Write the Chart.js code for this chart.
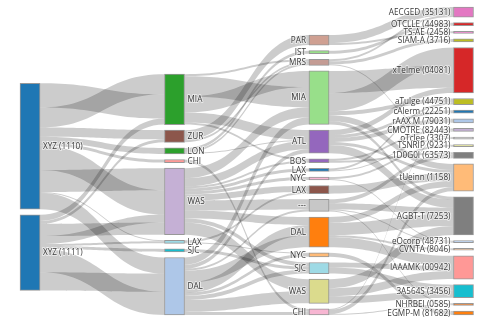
<!DOCTYPE html>
<html>
<head>
<meta charset="utf-8">
<script src="https://cdn.jsdelivr.net/npm/chart.js@4.4.1/dist/chart.umd.min.js"></script>
<style>
  html, body { margin: 0; padding: 0; background: #fff; }
  #wrap { width: 500px; height: 324px; position: relative; }
</style>
</head>
<body>
<div id="wrap"><canvas id="sankey"></canvas></div>
<script>
'use strict';

// nodes, listed column by column, top to bottom
const nodeLabels = [
  'XYZ (1110)', 'XYZ (1111)',
  'MIA', 'ZUR', 'LON', 'CHI', 'WAS', 'LAX', 'SJC', 'DAL',
  'PAR', 'IST', 'MRS', 'MIA', 'ATL', 'BOS', 'LAX', 'NYC', 'LAX', '---', 'DAL', 'NYC', 'SJC', 'WAS', 'CHI',
  'AECGED (35131)', 'OTCLLE (44983)', 'TS-AE (2458)', 'SIAM-A (3716)', 'xTelme (04081)', 'aTulge (44751)',
  'cAlerm (22251)', 'rAAX M (79031)', 'CMOTRE (82443)', 'oTclee (3307)', 'TSNRIP (9231)', '1D0G0I (63573)',
  'tUeinn (1158)', 'AGBT-T (7253)', 'eOcorp (48731)', 'CVNTA (8046)', 'IAAAMK (00942)', '3A564S (3456)',
  'NHRBEI (0585)', 'EGMP-M (81682)',
];
const nodeColumn = [
  0, 0,
  1, 1, 1, 1, 1, 1, 1, 1,
  2, 2, 2, 2, 2, 2, 2, 2, 2, 2, 2, 2, 2, 2, 2,
  3, 3, 3, 3, 3, 3, 3, 3, 3, 3, 3, 3, 3, 3, 3, 3, 3, 3, 3, 3,
];

// flows: source node index -> target node index, value
const linkSource = [
  0, 0, 0, 0, 0, 0, 0, 0, 0,
  1, 1, 1, 1, 1, 1, 1, 1,
  2, 2, 2, 2, 2, 3, 3, 4, 4, 4, 5,
  6, 6, 6, 6, 6, 6, 6, 6, 6, 6, 7, 7, 8,
  9, 9, 9, 9, 9, 9, 9, 9, 9,
  10, 10, 11, 12, 12, 12, 13, 13, 13, 13, 13,
  14, 14, 14, 14, 14, 15, 15, 16, 16, 17, 17, 18,
  19, 19, 19, 19, 20, 20, 20, 20, 21, 22, 22, 23, 23, 23, 24, 24, 24,
];
const linkTarget = [
  2, 2, 3, 4, 5, 6, 6, 7, 9,
  2, 3, 6, 6, 7, 8, 9, 9,
  13, 13, 12, 14, 15, 10, 12, 11, 12, 14, 24,
  13, 14, 15, 16, 17, 18, 19, 20, 22, 23, 18, 21, 22,
  13, 14, 19, 20, 20, 21, 22, 23, 24,
  25, 27, 26, 25, 28, 34, 29, 29, 30, 37, 38,
  29, 31, 32, 37, 38, 33, 36, 30, 34, 35, 39, 37,
  36, 38, 39, 43, 37, 38, 41, 40, 44, 41, 42, 38, 41, 42, 33, 37, 43,
];
const linkValue = [
  24, 20, 9, 6, 3, 24, 22, 1, 16,
  6, 3, 12, 8, 2, 3, 23, 18,
  20, 16, 2, 10, 2, 10, 2, 3, 2, 1, 3,
  10, 8, 2, 3, 3, 6, 10, 8, 4, 12, 2, 1, 3,
  7, 4, 2, 12, 10, 3, 4, 12, 3,
  8, 2, 3, 2, 3, 1, 22, 18, 4, 6, 3,
  5, 3, 4, 3, 8, 2, 2, 2, 1, 2, 1, 8,
  4, 6, 1, 1, 6, 12, 10, 2, 4, 5, 6, 9, 8, 7, 1, 4, 1,
];

const nodeColors = [
  '#1f77b4', '#1f77b4',
  '#2ca02c', '#8c564b', '#2ca02c', '#ff9896', '#c5b0d5', '#9edae5', '#17becf', '#aec7e8',
  '#cfa092', '#98df8a', '#c49c94', '#98df8a', '#9467bd', '#9467bd', '#1f77b4', '#f7b6d2', '#8c564b',
  '#c7c7c7', '#ff7f0e', '#ffbb78', '#9edae5', '#dbdb8d', '#f7b6d2',
  '#e377c2', '#d62728', '#e377c2', '#bcbd22', '#d62728', '#bcbd22', '#1f77b4', '#aec7e8', '#c5b0d5',
  '#c7c7c7', '#dbdb8d', '#7f7f7f', '#ffbb78', '#7f7f7f', '#aec7e8', '#dba77c', '#ff9896', '#17becf',
  '#d9752b', '#ff7f0e',
];

const PLOT_H = 308;
const NODE_PAD = 5.6;
const NODE_W = 20;
const LINK_COLOR = 'rgba(0,0,0,0.2)';

const sum = (arr, f) => arr.reduce((s, d) => s + f(d), 0);

// columns are stacked with a fixed gap and sit on the bottom of the plot;
// nodes of the first column are then centred on the far ends of their own links
const computeSankey = () => {
  const nodes = nodeLabels.map((label, i) => ({ i, label, col: nodeColumn[i], sourceLinks: [], targetLinks: [] }));
  const links = linkValue.map((value, k) => ({ k, value, source: nodes[linkSource[k]], target: nodes[linkTarget[k]] }));
  links.forEach(l => { l.source.sourceLinks.push(l); l.target.targetLinks.push(l); });
  nodes.forEach(n => {
    n.value = Math.max(sum(n.sourceLinks, l => l.value), sum(n.targetLinks, l => l.value));
    n.sourceLinks.sort((a, b) => a.target.i - b.target.i || a.k - b.k);
    n.targetLinks.sort((a, b) => a.source.i - b.source.i || b.k - a.k);
  });
  const columns = [];
  nodes.forEach(n => (columns[n.col] = columns[n.col] || []).push(n));

  const ky = Math.min(...columns.map(c => (PLOT_H - (c.length - 1) * NODE_PAD) / sum(c, n => n.value)));
  links.forEach(l => { l.width = l.value * ky; });

  const place = (c) => {
    let y = PLOT_H;
    for (let i = c.length - 1; i >= 0; --i) {
      c[i].y1 = y;
      c[i].y0 = y - c[i].value * ky;
      y = c[i].y0 - NODE_PAD;
    }
  };
  const linkEnds = () => nodes.forEach(n => {
    let ys = n.y0, yt = n.y0;
    n.sourceLinks.forEach(l => { l.sy = ys; ys += l.width; });
    n.targetLinks.forEach(l => { l.ty = yt; yt += l.width; });
  });
  columns.forEach(place);
  linkEnds();

  // first column: centre each node on its targets, then push apart around the middle node
  const first = columns[0];
  first.forEach(n => {
    const c = sum(n.sourceLinks, l => (l.ty + l.width / 2) * l.value) / sum(n.sourceLinks, l => l.value);
    const h = n.y1 - n.y0;
    n.y0 = c - h / 2; n.y1 = c + h / 2;
  });
  const mid = first.length >> 1;
  for (let i = mid - 1; i >= 0; --i) {
    const over = first[i].y1 + NODE_PAD - first[i + 1].y0;
    if (over > 0) { first[i].y0 -= over; first[i].y1 -= over; }
  }
  for (let i = mid + 1; i < first.length; ++i) {
    const over = first[i - 1].y1 + NODE_PAD - first[i].y0;
    if (over > 0) { first[i].y0 += over; first[i].y1 += over; }
  }
  linkEnds();
  return { nodes, links, lastCol: columns.length - 1 };
};

const layout = computeSankey();

const linkPlugin = {
  id: 'sankeyLinks',
  beforeDatasetsDraw(chart) {
    const { ctx, scales: { x, y } } = chart;
    ctx.save();
    ctx.fillStyle = LINK_COLOR;
    layout.links.forEach(l => {
      const x0 = x.getPixelForValue(l.source.col) + NODE_W / 2;
      const x1 = x.getPixelForValue(l.target.col) - NODE_W / 2;
      const xm = (x0 + x1) / 2;
      const s0 = y.getPixelForValue(l.sy), s1 = y.getPixelForValue(l.sy + l.width);
      const t0 = y.getPixelForValue(l.ty), t1 = y.getPixelForValue(l.ty + l.width);
      ctx.beginPath();
      ctx.moveTo(x0, s0);
      ctx.bezierCurveTo(xm, s0, xm, t0, x1, t0);
      ctx.lineTo(x1, t1);
      ctx.bezierCurveTo(xm, t1, xm, s1, x0, s1);
      ctx.closePath();
      ctx.fill();
    });
    ctx.restore();
  },
};

const labelPlugin = {
  id: 'sankeyLabels',
  afterDatasetsDraw(chart) {
    const { ctx, scales: { x, y } } = chart;
    ctx.save();
    ctx.font = '8.2px "Open Sans", sans-serif';
    ctx.textBaseline = 'middle';
    ctx.lineJoin = 'round';
    layout.nodes.forEach(n => {
      const left = n.col >= layout.lastCol / 2 + 0.5;
      const cx = x.getPixelForValue(n.col);
      const tx = left ? cx - NODE_W / 2 - 3 : cx + NODE_W / 2 + 3;
      const ty = y.getPixelForValue((n.y0 + n.y1) / 2) + 0.5;
      ctx.textAlign = left ? 'right' : 'left';
      ctx.strokeStyle = 'rgba(255,255,255,0.55)';
      ctx.lineWidth = 2;
      ctx.strokeText(n.label, tx, ty);
      ctx.fillStyle = '#3a3a3a';
      ctx.fillText(n.label, tx, ty);
    });
    ctx.restore();
  },
};

new Chart(document.getElementById('sankey'), {
  type: 'bar',
  data: {
    datasets: [{
      data: layout.nodes.map(n => ({ x: n.col, y: [n.y0, n.y1] })),
      backgroundColor: nodeColors,
      borderColor: 'rgba(68,68,68,0.55)',
      borderWidth: 1,
      borderSkipped: false,
      barThickness: NODE_W,
      clip: false,
    }],
  },
  options: {
    responsive: true,
    maintainAspectRatio: false,
    animation: false,
    layout: { padding: { left: 30, right: 36.5, top: 7, bottom: 9 } },
    plugins: { legend: { display: false }, tooltip: { enabled: false } },
    scales: {
      x: { type: 'linear', min: 0, max: layout.lastCol, offset: false, display: false },
      y: { type: 'linear', min: 0, max: PLOT_H, reverse: true, display: false },
    },
  },
  plugins: [linkPlugin, labelPlugin],
});
</script>
</body>
</html>
